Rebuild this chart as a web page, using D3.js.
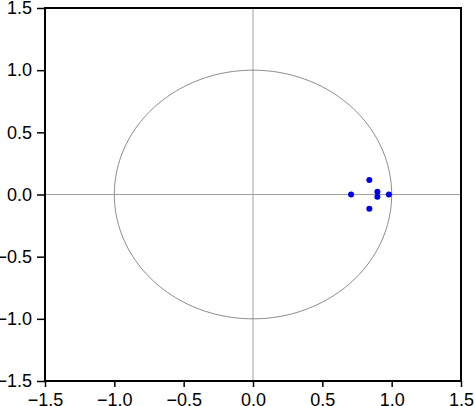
<!DOCTYPE html>
<html><head><meta charset="utf-8">
<script src="https://cdn.jsdelivr.net/npm/d3@7"></script>
<style>body{margin:0;background:#fff}svg{display:block}</style>
</head><body>
<svg id="c" width="474" height="406"></svg>
<script>
const rootRe = [0.707, 0.839, 0.839, 0.897, 0.897, 0.98];
const rootIm = [0.0, 0.117, -0.114, 0.023, -0.018, 0.0];
const xTicks = [-1.5, -1.0, -0.5, 0.0, 0.5, 1.0, 1.5];
const yTicks = [-1.5, -1.0, -0.5, 0.0, 0.5, 1.0, 1.5];

const svg = d3.select("#c");
const x = d3.scaleLinear().domain([-1.5, 1.5]).range([45, 461]);
const y = d3.scaleLinear().domain([-1.5, 1.5]).range([381, 8]);
const fmt = d3.format(".1f");

// zero lines
svg.append("line").attr("x1", x(-1.5)).attr("x2", x(1.5)).attr("y1", y(0)).attr("y2", y(0))
  .attr("stroke", "#a0a0a0").attr("stroke-width", 1);
svg.append("line").attr("x1", x(0)).attr("x2", x(0)).attr("y1", y(-1.5)).attr("y2", y(1.5))
  .attr("stroke", "#a0a0a0").attr("stroke-width", 1);

// unit circle
const th = d3.range(0, 361, 2).map(d => d * Math.PI / 180);
svg.append("path").datum(th)
  .attr("d", d3.line().x(t => x(Math.cos(t))).y(t => y(Math.sin(t))))
  .attr("fill", "none").attr("stroke", "#8c8c8c").attr("stroke-width", 1);

// points
svg.selectAll("circle.pt").data(rootRe).join("circle").attr("class", "pt")
  .attr("cx", d => x(d)).attr("cy", (d, i) => y(rootIm[i])).attr("r", 3)
  .attr("fill", "#0000ee");

// frame
svg.append("rect").attr("x", x(-1.5)).attr("y", y(1.5))
  .attr("width", x(1.5) - x(-1.5)).attr("height", y(-1.5) - y(1.5))
  .attr("fill", "none").attr("stroke", "#000").attr("stroke-width", 2);

// axes
const ax = svg.append("g").attr("transform", `translate(0,${y(-1.5)})`)
  .call(d3.axisBottom(x).tickValues(xTicks).tickFormat(fmt).tickSize(6).tickPadding(6));
const ay = svg.append("g").attr("transform", `translate(${x(-1.5)},0)`)
  .call(d3.axisLeft(y).tickValues(yTicks).tickFormat(fmt).tickSize(8).tickPadding(5));
[ax, ay].forEach(g => {
  g.select(".domain").remove();
  g.selectAll("line").attr("stroke", "#000").attr("stroke-width", 1.5);
  g.selectAll("text").attr("fill", "#000").style("font-family", "'Liberation Sans', Arial, sans-serif").style("font-size", "18px");
});
</script>
</body></html>
